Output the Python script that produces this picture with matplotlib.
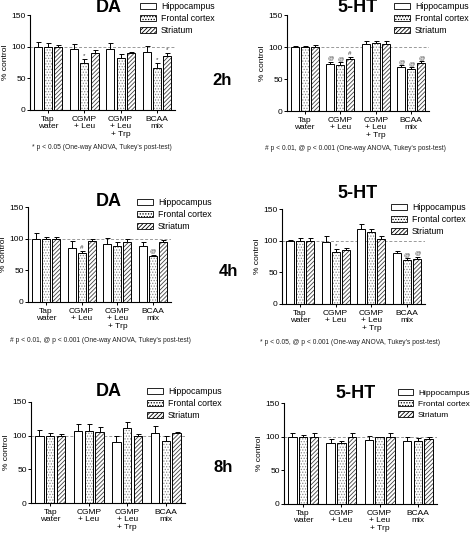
import numpy as np
import matplotlib
matplotlib.use("Agg")
import matplotlib.pyplot as plt
from matplotlib.patches import Patch

plt.rcParams["font.family"] = "Liberation Sans"
plt.rcParams["hatch.linewidth"] = 0.6

groups = ["Tap\nwater", "CGMP\n+ Leu", "CGMP\n+ Leu\n+ Trp", "BCAA\nmix"]
regions = ["Hippocampus", "Frontal cortex", "Striatum"]

# values [region][group], errors [region][group], marks [region][group]
da_2h = [[100, 96, 96, 91], [100, 74, 82, 66], [100, 90, 90, 86]]
da_2h_err = [[8, 8, 10, 10], [5, 6, 6, 8], [2, 4, 1, 4]]
da_2h_sig = [["", "", "", ""], ["", "*", "", "*"], ["", "", "", "*"]]

ht_2h = [[100, 73, 104, 69], [100, 72, 106, 66], [100, 81, 104, 75]]
ht_2h_err = [[2, 4, 5, 3], [2, 4, 4, 2], [3, 4, 6, 3]]
ht_2h_sig = [["", "@", "", "@"], ["", "@", "", "@"], ["", "#", "", "@"]]

da_4h = [[100, 85, 91, 88], [100, 78, 88, 72], [100, 97, 95, 94]]
da_4h_err = [[9, 11, 10, 7], [3, 3, 6, 3], [2, 3, 4, 4]]
da_4h_sig = [["", "", "", ""], ["", "#", "", "@"], ["", "", "", ""]]

ht_4h = [[100, 98, 118, 80], [100, 82, 113, 69], [100, 85, 102, 71]]
ht_4h_err = [[1, 9, 9, 4], [4, 5, 5, 3], [4, 4, 5, 4]]
ht_4h_sig = [["", "", "", ""], ["", "*", "", "@"], ["", "", "", "@"]]

da_8h = [[100, 107, 91, 104], [100, 107, 111, 92], [100, 106, 99, 104]]
da_8h_err = [[9, 10, 8, 10], [4, 10, 9, 8], [3, 7, 4, 2]]
da_8h_sig = [["", "", "", ""], ["", "", "", ""], ["", "", "", ""]]

ht_8h = [[100, 91, 95, 94], [100, 91, 99, 94], [100, 99, 99, 96]]
ht_8h_err = [[6, 5, 6, 5], [3, 3, 1, 4], [5, 7, 6, 4]]
ht_8h_sig = [["", "", "", ""], ["", "", "", ""], ["", "", "", ""]]

fill = ["white", "white", "white"]
hatches = ["", "......", "////////"]
hatch_cols = ["black", "#8a8a8a", "#444444"]

W, H = 474, 537
fig = plt.figure(figsize=(W / 100, H / 100), dpi=100)


def px_axes(x0, x1, ytop, ybot):
    return fig.add_axes([x0 / W, 1 - ybot / H, (x1 - x0) / W, (ybot - ytop) / H])


def draw(ax, vals, errs, sigs):
    x = np.arange(len(groups))
    width = 0.22
    for i in range(3):
        pos = x + (i - 1) * 0.28
        ax.errorbar(pos, vals[i], yerr=[np.zeros(4), errs[i]], fmt="none",
                    ecolor="black", elinewidth=0.7, capsize=1.8, capthick=0.7, zorder=1)
        if hatches[i]:
            ax.bar(pos, vals[i], width, color=fill[i], hatch=hatches[i],
                   edgecolor=hatch_cols[i], linewidth=0, zorder=2)
        else:
            ax.bar(pos, vals[i], width, color=fill[i], linewidth=0, zorder=2)
        ax.bar(pos, vals[i], width, fill=False, edgecolor="black", linewidth=0.7, zorder=3)
        for p, v, e, s in zip(pos, vals[i], errs[i], sigs[i]):
            if s:
                ax.text(p, v + e + 1.5, s, ha="center", va="bottom", fontsize=4.5,
                        color="#333333")
    ax.axhline(100, color="#999999", lw=0.7, ls=(0, (3, 2)), zorder=0)
    ax.set_xlim(-0.5, 3.5)
    ax.set_ylim(0, 150)
    ax.set_yticks([0, 50, 100, 150])
    ax.set_xticks(x)
    ax.set_xticklabels(groups, fontsize=6, linespacing=1.1)
    ax.tick_params(axis="y", labelsize=6, length=2, width=0.7, pad=1)
    ax.tick_params(axis="x", length=2, width=0.7, pad=2)
    ax.set_ylabel("% control", fontsize=6, labelpad=2)
    for s in ["top", "right"]:
        ax.spines[s].set_visible(False)
    for s in ["left", "bottom"]:
        ax.spines[s].set_linewidth(0.8)


handles = []
for i in range(3):
    handles.append(Patch(facecolor="white", edgecolor="black", hatch=hatches[i], linewidth=0.6))


def legend(ax, xpx, ypx, fs):
    ax.legend(handles, regions, loc="upper left", frameon=False, fontsize=fs,
              bbox_to_anchor=(xpx / W, 1 - ypx / H), bbox_transform=fig.transFigure,
              handlelength=1.8, handleheight=0.8, handletextpad=0.6,
              labelspacing=0.35, borderaxespad=0, borderpad=0)


panels = [
    (30, 175, 15, 110, da_2h, da_2h_err, da_2h_sig, "DA", 109, 8, 140, 2, 6.3),
    (287, 429, 15, 111, ht_2h, ht_2h_err, ht_2h_sig, "5-HT", 358, 8, 394, 2, 6.3),
    (28, 171, 207, 302, da_4h, da_4h_err, da_4h_sig, "DA", 109, 201, 137, 198, 6.3),
    (282, 425, 209, 304, ht_4h, ht_4h_err, ht_4h_sig, "5-HT", 358, 194, 391, 203, 6.3),
    (31, 185, 402, 503, da_8h, da_8h_err, da_8h_sig, "DA", 109, 391, 147, 387, 6.3),
    (284, 437, 403, 504, ht_8h, ht_8h_err, ht_8h_sig, "5-HT", 356, 393, 398, 389, 6.0),
]

for x0, x1, yt, yb, v, e, s, title, tx, ty, lx, ly, fs in panels:
    ax = px_axes(x0, x1, yt, yb)
    draw(ax, v, e, s)
    fig.text(tx / W, 1 - ty / H, title, ha="center", va="center",
             fontsize=13, fontweight="bold")
    legend(ax, lx, ly, fs)

for lbl, xp, yp in [("2h", 222, 80), ("4h", 228, 271), ("8h", 223, 468)]:
    fig.text(xp / W, 1 - yp / H, lbl, ha="center", va="center", fontsize=12,
             fontweight="bold")

notes = [
    ("* p < 0.05 (One-way ANOVA, Tukey's post-test)", 102, 148),
    ("# p < 0.01, @ p < 0.001 (One-way ANOVA, Tukey's post-test)", 355, 149),
    ("# p < 0.01, @ p < 0.001 (One-way ANOVA, Tukey's post-test)", 100, 340),
    ("* p < 0.05, @ p < 0.001 (One-way ANOVA, Tukey's post-test)", 350, 343),
]
for txt, xp, yp in notes:
    fig.text(xp / W, 1 - yp / H, txt, ha="center", va="center", fontsize=4.8,
             color="#222222")

fig.savefig("out.png", dpi=100)
